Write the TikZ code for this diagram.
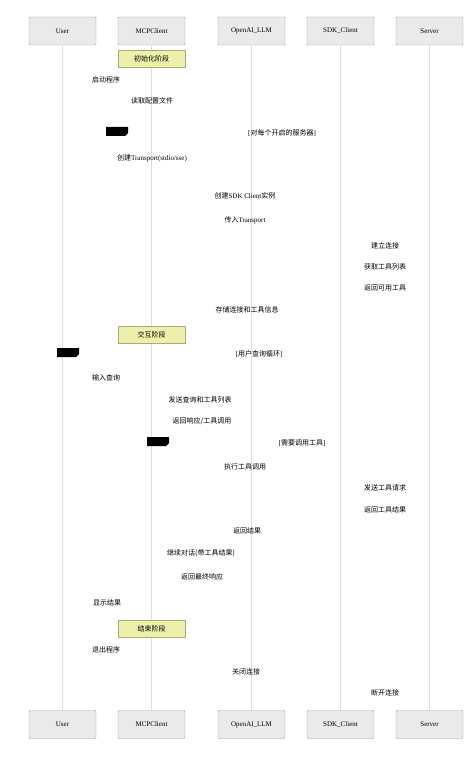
\documentclass[tikz,border=0pt]{standalone}
\usepackage{fontspec}
\setmainfont{Liberation Serif}
\newfontfamily\cjk{Noto Sans CJK SC}
\newcommand{\zh}[1]{{\cjk #1}}
\usetikzlibrary{positioning}
\definecolor{actorfill}{RGB}{234,234,234}
\definecolor{actorline}{RGB}{160,160,160}
\definecolor{lifeline}{RGB}{221,221,221}
\definecolor{notefill}{RGB}{236,240,170}
\definecolor{noteline}{RGB}{170,170,120}

\tikzset{
  actor/.style={draw=actorline, fill=actorfill, rounded corners=1pt,
    minimum width=67pt, minimum height=28pt, font=\fontsize{7}{8}\selectfont},
  phase/.style={draw=noteline, fill=notefill,
    minimum width=67pt, minimum height=17pt, font=\fontsize{7}{8}\selectfont},
  msg/.style={inner sep=0pt, font=\fontsize{7}{8}\selectfont},
  pics/looptag/.style={code={
    \fill[black] (0,0) -- (22,0) -- (22,6) -- (19,9) -- (0,9) -- cycle;}}
}

\begin{document}
\begin{tikzpicture}[x=1pt, y=-1pt]
    \useasboundingbox[fill=white] (0,0) rectangle (474,759);

    % Participants, top and bottom
    \foreach \nm/\x/\lbl in {usr/62.5/User, mcp/151.5/MCPClient, llm/251.5/OpenAI\_LLM,
                             sdk/340.5/SDK\_Client, srv/429.5/Server} {
        \node[actor] (\nm Top) at (\x,31) {\lbl};
        \node[actor] (\nm Bot) at (\x,724.5) {\lbl};
        \draw[lifeline, line width=0.6pt] (\nm Top.south) -- (\nm Bot.north);
    }

    % Init phase
    \node[phase] (initNote) at (151.5,58.5) {\zh{初始化阶段}};
    \node[msg] (m1) at (106,80) {\zh{启动程序}};
    \node[msg] (m2) at (152,101) {\zh{读取配置文件}};
    \pic at (106,127) {looptag};
    \node[msg] (loop1) at (282,133) {[\zh{对每个开启的服务器}]};
    \node[msg] (m3) at (152,158) {\zh{创建}Transport(stdio/sse)};
    \node[msg] (m4) at (245,196) {\zh{创建}SDK Client\zh{实例}};
    \node[msg] (m5) at (245,220) {\zh{传入}Transport};
    \node[msg] (m6) at (385,246) {\zh{建立连接}};
    \node[msg] (m7) at (385,267) {\zh{获取工具列表}};
    \node[msg] (m8) at (385,288) {\zh{返回可用工具}};
    \node[msg] (m9) at (247,310) {\zh{存储连接和工具信息}};

    % Interaction phase
    \node[phase] (chatNote) at (151.5,335) {\zh{交互阶段}};
    \pic at (57,348) {looptag};
    \node[msg] (loop2) at (259,354) {[\zh{用户查询循环}]};
    \node[msg] (m10) at (106,378) {\zh{输入查询}};
    \node[msg] (m11) at (200,400) {\zh{发送查询和工具列表}};
    \node[msg] (m12) at (202,421) {\zh{返回响应/工具调用}};
    \pic at (147,437) {looptag};
    \node[msg] (alt1) at (302,443) {[\zh{需要调用工具}]};
    \node[msg] (m13) at (245,467) {\zh{执行工具调用}};
    \node[msg] (m14) at (385,488) {\zh{发送工具请求}};
    \node[msg] (m15) at (385,510) {\zh{返回工具结果}};
    \node[msg] (m16) at (247,531) {\zh{返回结果}};
    \node[msg] (m17) at (201,553) {\zh{继续对话(带工具结果)}};
    \node[msg] (m18) at (202,577) {\zh{返回最终响应}};
    \node[msg] (m19) at (107,603) {\zh{显示结果}};

    % End phase
    \node[phase] (endNote) at (151.5,628.5) {\zh{结束阶段}};
    \node[msg] (m20) at (106,650) {\zh{退出程序}};
    \node[msg] (m21) at (246,672) {\zh{关闭连接}};
    \node[msg] (m22) at (385,693) {\zh{断开连接}};
\end{tikzpicture}
\end{document}
